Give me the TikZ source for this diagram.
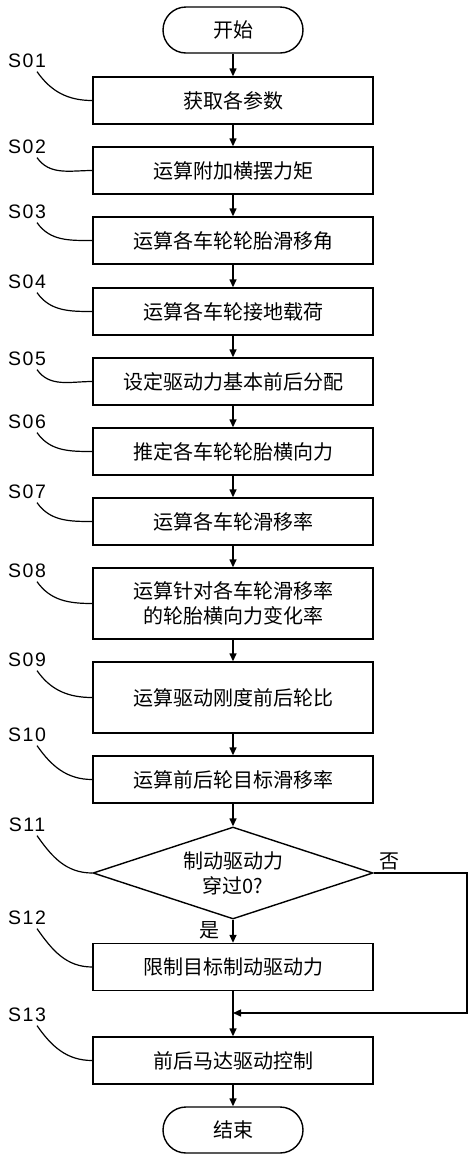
\documentclass[tikz,border=0pt]{standalone}
\usepackage{fontspec}
\setmainfont{Noto Sans CJK SC}
\newfontfamily\labelfont[LetterSpace=8]{Liberation Sans}
\usetikzlibrary{shapes.geometric,arrows.meta}

\begin{document}
\begin{tikzpicture}[
	                  x = 1pt,
	                  y = -1pt,
	         line width = 1.4pt,
	               font = \fontsize{20}{25}\selectfont,
	     stepbox/.style = {draw, rectangle, minimum width=280pt, minimum height=47pt, inner sep=0pt, align=center},
	    terminal/.style = {draw, rectangle, rounded corners=23pt, minimum width=140pt, minimum height=46pt, inner sep=0pt},
	      decide/.style = {draw, diamond, aspect=3, minimum width=280pt, minimum height=92pt, inner sep=0pt, align=center},
	   steplabel/.style = {font=\labelfont\fontsize{19.5}{19.5}\selectfont, inner sep=0pt},
	      leader/.style = {line width=1.2pt},
	        flow/.style = {-{Triangle[length=8pt,width=7pt]}},
	                     ]
	    \useasboundingbox (0,0) rectangle (474,1160);
		% main column
		\node[terminal] (start) at (233,30) {开始};
		\node[stepbox] (s01) at (233,100.5) {获取各参数};
		\node[stepbox] (s02) at (233,170.5) {运算附加横摆力矩};
		\node[stepbox] (s03) at (233,240.5) {运算各车轮轮胎滑移角};
		\node[stepbox] (s04) at (233,311.5) {运算各车轮接地载荷};
		\node[stepbox] (s05) at (233,381.5) {设定驱动力基本前后分配};
		\node[stepbox] (s06) at (233,451.5) {推定各车轮轮胎横向力};
		\node[stepbox] (s07) at (233,521.5) {运算各车轮滑移率};
		\node[stepbox, minimum height=71pt] (s08) at (233,603.5) {运算针对各车轮滑移率\\的轮胎横向力变化率};
		\node[stepbox, minimum height=71pt] (s09) at (233,697.5) {运算驱动刚度前后轮比};
		\node[stepbox] (s10) at (233,779.5) {运算前后轮目标滑移率};
		\node[decide] (s11) at (233,873) {制动驱动力\\穿过0?};
		\node[stepbox] (s12) at (233,967) {限制目标制动驱动力};
		\node[stepbox] (s13) at (233,1060.5) {前后马达驱动控制};
		\node[terminal] (stop) at (233,1130) {结束};
		% step numbers
		\foreach \n/\y in {01/61, 02/147, 03/212, 04/282, 05/359, 06/422, 07/492,
		                   08/571, 09/660, 10/735, 11/825, 12/918, 13/1015}
		    \node[steplabel] (l\n) at (27,\y) {S\n};
		\foreach \n in {01,02,03,04,05,06,07,08,09,10,11,12,13}
		    \draw[leader] ([xshift=10pt,yshift=-3pt]l\n.south) to[out=-55, in=180] (s\n.west);
		% arrows
		\foreach \a/\b in {start/s01, s01/s02, s02/s03, s03/s04, s04/s05, s05/s06, s06/s07,
		                   s07/s08, s08/s09, s09/s10, s10/s11, s11/s12, s12/s13, s13/stop}
		    \draw[flow] (\a) -- (\b);
		\node (yes) at (209,930) {是};
		\node (no) at (389,861) {否};
		\coordinate (corner) at (467,1013);
		\coordinate (merge) at (233,1013);
		\draw[flow] (s11.east) -| (corner) -- (merge);
	\end{tikzpicture}
\end{document}
